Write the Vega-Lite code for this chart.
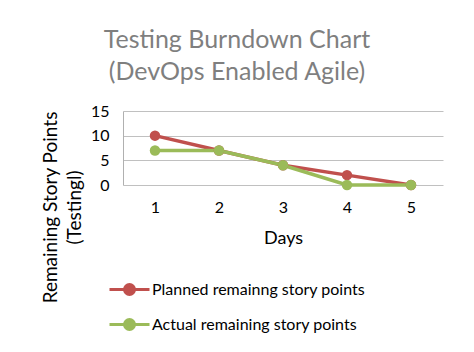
{
  "$schema": "https://vega.github.io/schema/vega-lite/v6.json",
  "width": 320,
  "height": 74,
  "autosize": {"type": "none"},
  "padding": {"left": 123, "top": 111, "right": 31, "bottom": 167},
  "background": "white",
  "title": {
    "text": ["Testing Burndown Chart", "(DevOps Enabled Agile)"],
    "fontSize": 25,
    "font": "Lato",
    "fontWeight": "normal",
    "color": "#7f7f7f",
    "anchor": "middle",
    "dx": -46,
    "offset": 18,
    "lineHeight": 32
  },
  "data": {
    "values": [
      {"day": 1, "series": "Planned remainng story points", "points": 10},
      {"day": 2, "series": "Planned remainng story points", "points": 7},
      {"day": 3, "series": "Planned remainng story points", "points": 4},
      {"day": 4, "series": "Planned remainng story points", "points": 2},
      {"day": 5, "series": "Planned remainng story points", "points": 0},
      {"day": 1, "series": "Actual remaining story points", "points": 7},
      {"day": 2, "series": "Actual remaining story points", "points": 7},
      {"day": 3, "series": "Actual remaining story points", "points": 4},
      {"day": 4, "series": "Actual remaining story points", "points": 0},
      {"day": 5, "series": "Actual remaining story points", "points": 0}
    ]
  },
  "encoding": {
    "x": {
      "field": "day",
      "type": "ordinal",
      "scale": {"type": "point", "padding": 0.5},
      "axis": {
        "title": "Days",
        "labelAngle": 0,
        "labelFontSize": 16,
        "labelFont": "Lato",
        "labelColor": "black",
        "labelPadding": 14,
        "titleFontSize": 18,
        "titleFont": "Lato",
        "titleFontWeight": "normal",
        "titleColor": "black",
        "titlePadding": 14,
        "ticks": false,
        "domain": false,
        "grid": false
      }
    },
    "y": {
      "field": "points",
      "type": "quantitative",
      "scale": {"domain": [0, 15]},
      "axis": {
        "values": [0, 5, 10, 15],
        "title": ["Remaining Story Points", "(Testingl)"],
        "titleFontSize": 19,
        "titleFont": "Lato",
        "titleFontWeight": "normal",
        "titleColor": "black",
        "titleAngle": -90,
        "titleAlign": "center",
        "titleBaseline": "top",
        "titleX": -82,
        "titleY": 96,
        "titleLineHeight": 24,
        "labelFontSize": 16,
        "labelFont": "Lato",
        "labelColor": "black",
        "labelPadding": 14,
        "ticks": false,
        "domainColor": "#b0b0b0",
        "gridColor": "#c0c0c0",
        "gridWidth": 1
      }
    },
    "color": {
      "field": "series",
      "type": "nominal",
      "scale": {
        "domain": ["Planned remainng story points", "Actual remaining story points"],
        "range": ["#c0504d", "#9bbb59"]
      },
      "legend": {
        "orient": "none",
        "legendX": -5,
        "legendY": 167,
        "direction": "vertical",
        "title": null,
        "labelFontSize": 16,
        "labelFont": "Lato",
        "labelColor": "black",
        "labelOffset": 11,
        "labelLimit": 400,
        "rowPadding": 12,
        "symbolType": "M-2,0H2M-0.5,0A0.5,0.5 0 1,0 0.5,0A0.5,0.5 0 1,0 -0.5,0Z",
        "symbolSize": 400,
        "symbolStrokeWidth": 3,
        "encode": {
          "symbols": {
            "update": {
              "fill": {"field": "value", "scale": "color"},
              "stroke": {"field": "value", "scale": "color"},
              "strokeWidth": {"value": 3},
              "opacity": {"value": 1}
            }
          }
        }
      }
    }
  },
  "layer": [
    {"mark": {"type": "line", "strokeWidth": 3.5}},
    {"mark": {"type": "point", "filled": true, "size": 110, "opacity": 1}}
  ],
  "config": {
    "view": {"stroke": null}
  }
}
